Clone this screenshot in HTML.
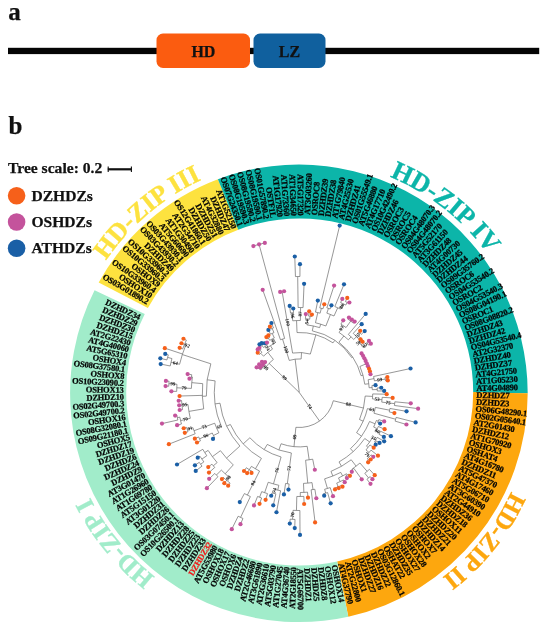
<!DOCTYPE html>
<html lang="en"><head><meta charset="utf-8"><title>HD-ZIP phylogenetic tree</title>
<style>html,body{margin:0;padding:0;background:#fff}svg{display:block}</style></head>
<body>
<svg width="550" height="630" viewBox="0 0 550 630">
<rect width="550" height="630" fill="#fff"/>
<g font-family="'Liberation Serif',serif" font-weight="bold" fill="#111" stroke="#111" stroke-width="0.25">
<text x="8.2" y="20" font-size="25">a</text>
<rect x="8" y="47.8" width="531.2" height="6.3" fill="#050505" stroke="none"/>
<rect x="156.5" y="33.5" width="93.5" height="34.5" rx="6.5" fill="#fb5c10" stroke="none"/>
<rect x="253.5" y="33.5" width="72" height="34.5" rx="6.5" fill="#10609e" stroke="none"/>
<text x="203.4" y="56.6" font-size="16" text-anchor="middle">HD</text>
<text x="289.5" y="56.6" font-size="16" text-anchor="middle">LZ</text>
<text x="8.5" y="134" font-size="25">b</text>
<text x="8" y="173.4" font-size="15.6">Tree scale: 0.2</text>
<path d="M107.8 169.3H131.8" stroke="#111" stroke-width="2.2" fill="none"/><path d="M108.2 166.5V172.1M131.4 166.5V172.1" stroke="#111" stroke-width="1.1" fill="none"/>
<circle cx="16.6" cy="195.8" r="8.8" fill="#f6601a" stroke="none"/>
<text x="31.4" y="200.9" font-size="15.6">DZHDZs</text>
<circle cx="16.6" cy="222" r="8.8" fill="#c4539c" stroke="none"/>
<text x="31.4" y="227.1" font-size="15.6">OSHDZs</text>
<circle cx="16.6" cy="248.2" r="8.8" fill="#1a5fa6" stroke="none"/>
<text x="31.4" y="253.3" font-size="15.6">ATHDZs</text>
</g>
<path d="M98.69 282.55A228.8 228.8 0 0 1 217.91 179.32L238.28 229.73A173.5 173.5 0 0 0 147.88 308.02Z" fill="#fde23f"/>
<path d="M217.91 179.32A228.8 228.8 0 0 1 527.7 393.35L473.2 392.04A173.5 173.5 0 0 0 238.28 229.73Z" fill="#0cb5a9"/>
<path d="M527.7 393.35A228.8 228.8 0 0 1 348.29 616.71L337.15 561.41A173.5 173.5 0 0 0 473.2 392.04Z" fill="#fda70e"/>
<path d="M348.29 616.71A228.8 228.8 0 0 1 94.58 290.32L144.77 313.91A173.5 173.5 0 0 0 337.15 561.41Z" fill="#a1ecca"/>
<defs><path id="tp" d="M65.3 392.5A234 234 0 1 1 533.3 392.5A234 234 0 1 1 65.3 392.5"/></defs>
<text font-family="'Liberation Serif',serif" font-weight="bold" font-size="26" fill="#fde23f" stroke="#fde23f" stroke-width="0.3" text-anchor="middle"><textPath href="#tp" startOffset="203.39">HD-ZIP III</textPath></text>
<text font-family="'Liberation Serif',serif" font-weight="bold" font-size="26.4" fill="#0cb5a9" stroke="#0cb5a9" stroke-width="0.3" text-anchor="middle"><textPath href="#tp" startOffset="523.58">HD-ZIP IV</textPath></text>
<text font-family="'Liberation Serif',serif" font-weight="bold" font-size="25" fill="#fda70e" stroke="#fda70e" stroke-width="0.3" text-anchor="middle"><textPath href="#tp" startOffset="892.78">HD-ZIP II</textPath></text>
<text font-family="'Liberation Serif',serif" font-weight="bold" font-size="25.4" fill="#a1ecca" stroke="#a1ecca" stroke-width="0.3" text-anchor="middle"><textPath href="#tp" startOffset="1309.35">HD-ZIP I</textPath></text>
<g font-family="'Liberation Serif',serif" font-weight="bold" font-size="8.5" letter-spacing="-0.2" fill="#050505" stroke="#050505" stroke-width="0.25">
<text transform="rotate(30.51 299.5 391.5)" x="123.6" y="394.35" text-anchor="end">OS03G01890.2</text>
<text transform="rotate(32.72 299.5 391.5)" x="123.6" y="394.35" text-anchor="end">OSHOX10</text>
<text transform="rotate(34.94 299.5 391.5)" x="123.6" y="394.35" text-anchor="end">OS10G33960.4</text>
<text transform="rotate(37.15 299.5 391.5)" x="123.6" y="394.35" text-anchor="end">OSHOX9</text>
<text transform="rotate(39.37 299.5 391.5)" x="123.6" y="394.35" text-anchor="end">OS10G33960.3</text>
<text transform="rotate(41.58 299.5 391.5)" x="123.6" y="394.35" text-anchor="end">OS10G33960.2</text>
<text transform="rotate(43.8 299.5 391.5)" x="123.6" y="394.35" text-anchor="end">DZHDZ49</text>
<text transform="rotate(46.01 299.5 391.5)" x="123.6" y="394.35" text-anchor="end">OS03G43930.2</text>
<text transform="rotate(48.23 299.5 391.5)" x="123.6" y="394.35" text-anchor="end">OS03G43930.1</text>
<text transform="rotate(50.44 299.5 391.5)" x="123.6" y="394.35" text-anchor="end">AT5G60690</text>
<text transform="rotate(52.66 299.5 391.5)" x="123.6" y="394.35" text-anchor="end">AT1G30490</text>
<text transform="rotate(54.87 299.5 391.5)" x="123.6" y="394.35" text-anchor="end">AT2G34710</text>
<text transform="rotate(57.09 299.5 391.5)" x="123.6" y="394.35" text-anchor="end">OS12G41860.1</text>
<text transform="rotate(59.3 299.5 391.5)" x="123.6" y="394.35" text-anchor="end">DZHDZ50</text>
<text transform="rotate(61.52 299.5 391.5)" x="123.6" y="394.35" text-anchor="end">DZHDZ51</text>
<text transform="rotate(63.73 299.5 391.5)" x="123.6" y="394.35" text-anchor="end">AT4G32880</text>
<text transform="rotate(65.95 299.5 391.5)" x="123.6" y="394.35" text-anchor="end">DZHDZ47</text>
<text transform="rotate(68.16 299.5 391.5)" x="123.6" y="394.35" text-anchor="end">AT1G52150</text>
<text transform="rotate(70.38 299.5 391.5)" x="123.6" y="394.35" text-anchor="end">OS07G24350.1</text>
<text transform="rotate(72.59 299.5 391.5)" x="123.6" y="394.35" text-anchor="end">OS08G19590.3</text>
<text transform="rotate(74.81 299.5 391.5)" x="123.6" y="394.35" text-anchor="end">OS08G19590.2</text>
<text transform="rotate(77.02 299.5 391.5)" x="123.6" y="394.35" text-anchor="end">OS08G19590.1</text>
<text transform="rotate(79.24 299.5 391.5)" x="123.6" y="394.35" text-anchor="end">OS01G57890.2</text>
<text transform="rotate(81.45 299.5 391.5)" x="123.6" y="394.35" text-anchor="end">OSTF1L</text>
<text transform="rotate(83.67 299.5 391.5)" x="123.6" y="394.35" text-anchor="end">AT1G17920</text>
<text transform="rotate(85.88 299.5 391.5)" x="123.6" y="394.35" text-anchor="end">AT1G73360</text>
<text transform="rotate(88.09 299.5 391.5)" x="123.6" y="394.35" text-anchor="end">AT1G34650</text>
<text transform="rotate(90.31 299.5 391.5)" x="123.6" y="394.35" text-anchor="end">AT5G17320</text>
<text transform="rotate(272.52 299.5 391.5)" x="476.4" y="394.35">AT3G03260</text>
<text transform="rotate(274.74 299.5 391.5)" x="476.4" y="394.35">OSROC8</text>
<text transform="rotate(276.95 299.5 391.5)" x="476.4" y="394.35">DZHDZ39</text>
<text transform="rotate(279.17 299.5 391.5)" x="476.4" y="394.35">DZHDZ38</text>
<text transform="rotate(281.38 299.5 391.5)" x="476.4" y="394.35">AT1G79840</text>
<text transform="rotate(283.6 299.5 391.5)" x="476.4" y="394.35">AT4G25530</text>
<text transform="rotate(285.81 299.5 391.5)" x="476.4" y="394.35">DZHDZ41</text>
<text transform="rotate(288.03 299.5 391.5)" x="476.4" y="394.35">OS01G55549.1</text>
<text transform="rotate(290.24 299.5 391.5)" x="476.4" y="394.35">AT5G46880</text>
<text transform="rotate(292.46 299.5 391.5)" x="476.4" y="394.35">AT4G17710</text>
<text transform="rotate(294.67 299.5 391.5)" x="476.4" y="394.35">OS10G42490.2</text>
<text transform="rotate(296.89 299.5 391.5)" x="476.4" y="394.35">DZHDZ46</text>
<text transform="rotate(299.1 299.5 391.5)" x="476.4" y="394.35">OSROC3</text>
<text transform="rotate(301.32 299.5 391.5)" x="476.4" y="394.35">OSROC5</text>
<text transform="rotate(303.53 299.5 391.5)" x="476.4" y="394.35">OSROC4</text>
<text transform="rotate(305.75 299.5 391.5)" x="476.4" y="394.35">OS04G48070.3</text>
<text transform="rotate(307.96 299.5 391.5)" x="476.4" y="394.35">OS04G48070.2</text>
<text transform="rotate(310.18 299.5 391.5)" x="476.4" y="394.35">AT5G52170</text>
<text transform="rotate(312.39 299.5 391.5)" x="476.4" y="394.35">AT3G61150</text>
<text transform="rotate(314.61 299.5 391.5)" x="476.4" y="394.35">DZHDZ48</text>
<text transform="rotate(316.82 299.5 391.5)" x="476.4" y="394.35">AT4G00730</text>
<text transform="rotate(319.04 299.5 391.5)" x="476.4" y="394.35">DZHDZ45</text>
<text transform="rotate(321.25 299.5 391.5)" x="476.4" y="394.35">DZHDZ44</text>
<text transform="rotate(323.47 299.5 391.5)" x="476.4" y="394.35">OS09G35760.2</text>
<text transform="rotate(325.68 299.5 391.5)" x="476.4" y="394.35">OSROC6</text>
<text transform="rotate(327.9 299.5 391.5)" x="476.4" y="394.35">OS04G53540.2</text>
<text transform="rotate(330.11 299.5 391.5)" x="476.4" y="394.35">OSROC2</text>
<text transform="rotate(332.33 299.5 391.5)" x="476.4" y="394.35">OS04G53540.3</text>
<text transform="rotate(334.54 299.5 391.5)" x="476.4" y="394.35">OS08G04190.1</text>
<text transform="rotate(336.76 299.5 391.5)" x="476.4" y="394.35">OSROC1</text>
<text transform="rotate(338.97 299.5 391.5)" x="476.4" y="394.35">OS08G08820.2</text>
<text transform="rotate(341.19 299.5 391.5)" x="476.4" y="394.35">DZHDZ43</text>
<text transform="rotate(343.4 299.5 391.5)" x="476.4" y="394.35">DZHDZ42</text>
<text transform="rotate(345.62 299.5 391.5)" x="476.4" y="394.35">OS04G53540.4</text>
<text transform="rotate(347.83 299.5 391.5)" x="476.4" y="394.35">AT2G32370</text>
<text transform="rotate(350.05 299.5 391.5)" x="476.4" y="394.35">DZHDZ40</text>
<text transform="rotate(352.26 299.5 391.5)" x="476.4" y="394.35">DZHDZ37</text>
<text transform="rotate(354.48 299.5 391.5)" x="476.4" y="394.35">AT4G21750</text>
<text transform="rotate(356.69 299.5 391.5)" x="476.4" y="394.35">AT1G05230</text>
<text transform="rotate(358.91 299.5 391.5)" x="476.4" y="394.35">AT4G04890</text>
<text transform="rotate(1.12 299.5 391.5)" x="476.4" y="394.35">DZHDZ7</text>
<text transform="rotate(3.34 299.5 391.5)" x="476.4" y="394.35">DZHDZ3</text>
<text transform="rotate(5.55 299.5 391.5)" x="476.4" y="394.35">OS06G48290.1</text>
<text transform="rotate(7.77 299.5 391.5)" x="476.4" y="394.35">OS02G05640.1</text>
<text transform="rotate(9.98 299.5 391.5)" x="476.4" y="394.35">AT2G01430</text>
<text transform="rotate(12.2 299.5 391.5)" x="476.4" y="394.35">DZHDZ12</text>
<text transform="rotate(14.41 299.5 391.5)" x="476.4" y="394.35">AT1G70920</text>
<text transform="rotate(16.62 299.5 391.5)" x="476.4" y="394.35">OSHOX3</text>
<text transform="rotate(18.84 299.5 391.5)" x="476.4" y="394.35">OSHAT4</text>
<text transform="rotate(21.05 299.5 391.5)" x="476.4" y="394.35">AT4G16780</text>
<text transform="rotate(23.27 299.5 391.5)" x="476.4" y="394.35">DZHDZ11</text>
<text transform="rotate(25.48 299.5 391.5)" x="476.4" y="394.35">AT5G47370</text>
<text transform="rotate(27.7 299.5 391.5)" x="476.4" y="394.35">AT4G17460</text>
<text transform="rotate(29.91 299.5 391.5)" x="476.4" y="394.35">AT5G06710</text>
<text transform="rotate(32.13 299.5 391.5)" x="476.4" y="394.35">AT3G60390</text>
<text transform="rotate(34.34 299.5 391.5)" x="476.4" y="394.35">AT2G44910</text>
<text transform="rotate(36.56 299.5 391.5)" x="476.4" y="394.35">DZHDZ36</text>
<text transform="rotate(38.77 299.5 391.5)" x="476.4" y="394.35">DZHDZ18</text>
<text transform="rotate(40.99 299.5 391.5)" x="476.4" y="394.35">OSHOX11</text>
<text transform="rotate(43.2 299.5 391.5)" x="476.4" y="394.35">DZHDZ20</text>
<text transform="rotate(45.42 299.5 391.5)" x="476.4" y="394.35">DZHDZ21</text>
<text transform="rotate(47.63 299.5 391.5)" x="476.4" y="394.35">DZHDZ14</text>
<text transform="rotate(49.85 299.5 391.5)" x="476.4" y="394.35">OSHOX7</text>
<text transform="rotate(52.06 299.5 391.5)" x="476.4" y="394.35">OSHOX2</text>
<text transform="rotate(54.28 299.5 391.5)" x="476.4" y="394.35">OSHOX28</text>
<text transform="rotate(56.49 299.5 391.5)" x="476.4" y="394.35">OSHOX27</text>
<text transform="rotate(58.71 299.5 391.5)" x="476.4" y="394.35">DZHDZ35</text>
<text transform="rotate(60.92 299.5 391.5)" x="476.4" y="394.35">OSHAT22</text>
<text transform="rotate(63.14 299.5 391.5)" x="476.4" y="394.35">OS03G12860.1</text>
<text transform="rotate(65.35 299.5 391.5)" x="476.4" y="394.35">DZHDZ22</text>
<text transform="rotate(67.57 299.5 391.5)" x="476.4" y="394.35">DZHDZ16</text>
<text transform="rotate(69.78 299.5 391.5)" x="476.4" y="394.35">DZHDZ27</text>
<text transform="rotate(72 299.5 391.5)" x="476.4" y="394.35">OSHOX1</text>
<text transform="rotate(74.21 299.5 391.5)" x="476.4" y="394.35">AT2G22800</text>
<text transform="rotate(76.43 299.5 391.5)" x="476.4" y="394.35">AT4G37790</text>
<text transform="rotate(78.64 299.5 391.5)" x="476.4" y="394.35">OSHOX14</text>
<text transform="rotate(80.86 299.5 391.5)" x="476.4" y="394.35">OSHOX12</text>
<text transform="rotate(83.07 299.5 391.5)" x="476.4" y="394.35">DZHDZ8</text>
<text transform="rotate(85.29 299.5 391.5)" x="476.4" y="394.35">DZHDZ5</text>
<text transform="rotate(87.5 299.5 391.5)" x="476.4" y="394.35">DZHDZ1</text>
<text transform="rotate(89.72 299.5 391.5)" x="476.4" y="394.35">AT5G66700</text>
<text transform="rotate(271.93 299.5 391.5)" x="123.6" y="394.35" text-anchor="end">AT2G18550</text>
<text transform="rotate(274.15 299.5 391.5)" x="123.6" y="394.35" text-anchor="end">AT4G36740</text>
<text transform="rotate(276.36 299.5 391.5)" x="123.6" y="394.35" text-anchor="end">AT1G27045</text>
<text transform="rotate(278.58 299.5 391.5)" x="123.6" y="394.35" text-anchor="end">AT5G03790</text>
<text transform="rotate(280.79 299.5 391.5)" x="123.6" y="394.35" text-anchor="end">AT2G36610</text>
<text transform="rotate(283.01 299.5 391.5)" x="123.6" y="394.35" text-anchor="end">AT3G61890</text>
<text transform="rotate(285.22 299.5 391.5)" x="123.6" y="394.35" text-anchor="end">AT2G46680</text>
<text transform="rotate(287.44 299.5 391.5)" x="123.6" y="394.35" text-anchor="end">DZHDZ2</text>
<text transform="rotate(289.65 299.5 391.5)" x="123.6" y="394.35" text-anchor="end">DZHDZ4</text>
<text transform="rotate(291.87 299.5 391.5)" x="123.6" y="394.35" text-anchor="end">OSHOX6</text>
<text transform="rotate(294.08 299.5 391.5)" x="123.6" y="394.35" text-anchor="end">OSHOX17</text>
<text transform="rotate(296.3 299.5 391.5)" x="123.6" y="394.35" text-anchor="end">OSHOX18</text>
<text transform="rotate(298.51 299.5 391.5)" x="123.6" y="394.35" text-anchor="end">AT5G53980</text>
<text transform="rotate(300.73 299.5 391.5)" x="123.6" y="394.35" text-anchor="end" fill="#f01818" stroke="#f01818">DZHDZ32</text>
<text transform="rotate(302.94 299.5 391.5)" x="123.6" y="394.35" text-anchor="end">DZHDZ33</text>
<text transform="rotate(305.16 299.5 391.5)" x="123.6" y="394.35" text-anchor="end">DZHDZ23</text>
<text transform="rotate(307.37 299.5 391.5)" x="123.6" y="394.35" text-anchor="end">DZHDZ25</text>
<text transform="rotate(309.58 299.5 391.5)" x="123.6" y="394.35" text-anchor="end">DZHDZ28</text>
<text transform="rotate(311.8 299.5 391.5)" x="123.6" y="394.35" text-anchor="end">DZHDZ13</text>
<text transform="rotate(314.01 299.5 391.5)" x="123.6" y="394.35" text-anchor="end">OS10G26500.1</text>
<text transform="rotate(316.23 299.5 391.5)" x="123.6" y="394.35" text-anchor="end">OS03G07450.1</text>
<text transform="rotate(318.44 299.5 391.5)" x="123.6" y="394.35" text-anchor="end">DZHDZ26</text>
<text transform="rotate(320.66 299.5 391.5)" x="123.6" y="394.35" text-anchor="end">DZHDZ31</text>
<text transform="rotate(322.87 299.5 391.5)" x="123.6" y="394.35" text-anchor="end">AT3G01220</text>
<text transform="rotate(325.09 299.5 391.5)" x="123.6" y="394.35" text-anchor="end">AT5G15150</text>
<text transform="rotate(327.3 299.5 391.5)" x="123.6" y="394.35" text-anchor="end">AT1G69780</text>
<text transform="rotate(329.52 299.5 391.5)" x="123.6" y="394.35" text-anchor="end">AT1G26960</text>
<text transform="rotate(331.73 299.5 391.5)" x="123.6" y="394.35" text-anchor="end">AT3G01470</text>
<text transform="rotate(333.95 299.5 391.5)" x="123.6" y="394.35" text-anchor="end">DZHDZ9</text>
<text transform="rotate(336.16 299.5 391.5)" x="123.6" y="394.35" text-anchor="end">DZHDZ24</text>
<text transform="rotate(338.38 299.5 391.5)" x="123.6" y="394.35" text-anchor="end">DZHDZ6</text>
<text transform="rotate(340.59 299.5 391.5)" x="123.6" y="394.35" text-anchor="end">DZHDZ19</text>
<text transform="rotate(342.81 299.5 391.5)" x="123.6" y="394.35" text-anchor="end">DZHDZ17</text>
<text transform="rotate(345.02 299.5 391.5)" x="123.6" y="394.35" text-anchor="end">OSHOX5</text>
<text transform="rotate(347.24 299.5 391.5)" x="123.6" y="394.35" text-anchor="end">OS09G21180.1</text>
<text transform="rotate(349.45 299.5 391.5)" x="123.6" y="394.35" text-anchor="end">OS08G32080.1</text>
<text transform="rotate(351.67 299.5 391.5)" x="123.6" y="394.35" text-anchor="end">OSHOX16</text>
<text transform="rotate(353.88 299.5 391.5)" x="123.6" y="394.35" text-anchor="end">OS02G49700.2</text>
<text transform="rotate(356.1 299.5 391.5)" x="123.6" y="394.35" text-anchor="end">OS02G49700.3</text>
<text transform="rotate(358.31 299.5 391.5)" x="123.6" y="394.35" text-anchor="end">DZHDZ10</text>
<text transform="rotate(0.53 299.5 391.5)" x="123.6" y="394.35" text-anchor="end">OSHOX13</text>
<text transform="rotate(2.74 299.5 391.5)" x="123.6" y="394.35" text-anchor="end">OS10G23090.2</text>
<text transform="rotate(4.96 299.5 391.5)" x="123.6" y="394.35" text-anchor="end">OSHOX8</text>
<text transform="rotate(7.17 299.5 391.5)" x="123.6" y="394.35" text-anchor="end">OS08G37580.1</text>
<text transform="rotate(9.39 299.5 391.5)" x="123.6" y="394.35" text-anchor="end">OSHOX4</text>
<text transform="rotate(11.6 299.5 391.5)" x="123.6" y="394.35" text-anchor="end">AT5G65310</text>
<text transform="rotate(13.82 299.5 391.5)" x="123.6" y="394.35" text-anchor="end">AT4G40060</text>
<text transform="rotate(16.03 299.5 391.5)" x="123.6" y="394.35" text-anchor="end">AT2G22430</text>
<text transform="rotate(18.25 299.5 391.5)" x="123.6" y="394.35" text-anchor="end">DZHDZ15</text>
<text transform="rotate(20.46 299.5 391.5)" x="123.6" y="394.35" text-anchor="end">DZHDZ30</text>
<text transform="rotate(22.68 299.5 391.5)" x="123.6" y="394.35" text-anchor="end">DZHDZ29</text>
<text transform="rotate(24.89 299.5 391.5)" x="123.6" y="394.35" text-anchor="end">DZHDZ34</text>
</g>
<path d="M299.3 392.5L269.07 363.34M265.34 367.79A42 42 0 0 1 273.38 359.45M265.34 367.79L263.32 366.32M260.96 369.91A44.5 44.5 0 0 1 266.01 362.97M260.96 369.91L256.65 367.37M261.86 368.44L260.18 367.36M262.82 367.02L259.13 364.44M263.83 365.62L262.8 364.84M264.9 364.27L261.96 361.86M266.01 362.97L265.04 362.1M273.38 359.45L267.83 352.37M263.53 356.15A51 51 0 0 1 272.53 349.09M263.53 356.15L260.72 353.3M259.6 354.43A55 55 0 0 1 261.87 352.2M259.6 354.43L257.72 352.63M261.87 352.2L260.17 350.37M259.37 351.13A57.5 57.5 0 0 1 260.99 349.62M259.37 351.13L257.7 349.4M260.99 349.62L259.4 347.83M272.53 349.09L270.43 345.69M266.79 348.14A55 55 0 0 1 274.25 343.54M266.79 348.14L265.31 346.12M263.54 347.47A57.5 57.5 0 0 1 267.13 344.84M263.54 347.47L261.99 345.51M261.09 346.24A60 60 0 0 1 262.9 344.8M261.09 346.24L259.5 344.31M262.9 344.8L261.69 343.21M267.13 344.84L266.85 344.43M265.93 345.06A58 58 0 0 1 267.78 343.81M265.93 345.06L264.66 343.26M267.78 343.81L266.97 342.55M274.25 343.54L271.97 339.09M269.67 340.33A60 60 0 0 1 274.32 337.95M269.67 340.33L268.44 338.15M267.39 338.76A62.5 62.5 0 0 1 269.49 337.57M267.39 338.76L266.37 337.04M269.49 337.57L268.35 335.46M274.32 337.95L272.23 333.4M270.53 334.21A65 65 0 0 1 273.96 332.64M270.53 334.21L268.41 329.91M273.96 332.64L272.2 328.5M270.97 329.04A69.5 69.5 0 0 1 273.45 327.99M270.97 329.04L269.91 326.66M273.45 327.99L271.44 322.98M299.3 392.5L295.14 359.16M289.25 360.44A33.6 33.6 0 0 1 301.16 358.95M289.25 360.44L282.54 339.07M280.49 339.75A56 56 0 0 1 284.62 338.46M280.49 339.75L262.69 289.83M284.62 338.46L259.07 244.37M253.37 246.03A153.5 153.5 0 0 1 264.82 242.92M253.37 246.03L253.37 246.03M259.07 244.37L259.07 244.37M264.82 242.92L264.82 242.92M301.16 358.95L301.52 352.56M292.59 353.07A40 40 0 0 1 310.33 354.05M292.59 353.07L282.12 291.55M280.17 291.9A102.4 102.4 0 0 1 284.08 291.24M280.17 291.9L280.17 291.9M284.08 291.24L284.08 291.24M310.33 354.05L315.85 334.83M297.02 332.54A60 60 0 0 1 333.03 342.88M297.02 332.54L296.56 320.55M292.74 320.8A72 72 0 0 1 300.39 320.51M292.74 320.8L292.01 312.83M290.47 312.99A80 80 0 0 1 293.55 312.71M290.47 312.99L289.69 305.93M293.55 312.71L293.25 308.52M300.39 320.51L300.58 307.51M298.12 307.51A85 85 0 0 1 303.04 307.58M298.12 307.51L297.69 276.51M295.44 276.56A116 116 0 0 1 299.93 276.5M295.44 276.56L294.78 256.48M299.93 276.5L299.99 264.2M303.04 307.58L304.09 283.81M333.03 342.88L334.72 340.4M312.29 330.85A63 63 0 0 1 351.84 357.74M312.29 330.85L313.33 325.96M306.88 324.92A68 68 0 0 1 319.64 327.61M306.88 324.92L307.55 318.96M305.41 318.75A74 74 0 0 1 309.68 319.23M305.41 318.75L305.8 314.07M309.68 319.23L310.1 316.26M308.62 316.07A77 77 0 0 1 311.57 316.48M308.62 316.07L309.2 311.3M311.57 316.48L311.87 314.61M319.64 327.61L320.72 324.18M315.46 322.75A71.6 71.6 0 0 1 325.85 326M315.46 322.75L317.81 312.62M315.49 312.11A82 82 0 0 1 320.12 313.19M315.49 312.11L317.81 300.55M320.12 313.19L321.39 308.35M319.76 307.94A87 87 0 0 1 323.01 308.79M319.76 307.94L339.67 225.61M323.01 308.79L324.29 304.27M325.85 326L330.45 314.49M326.84 313.14A84 84 0 0 1 334 316M326.84 313.14L328.48 308.42M326.85 307.87A89 89 0 0 1 330.1 309M326.85 307.87L334.09 285.62M330.1 309L331.44 305.34M334 316L337.71 307.8M334.83 306.55A93 93 0 0 1 340.56 309.15M334.83 306.55L344 284.37M340.56 309.15L343.22 303.77M340.63 302.54A99 99 0 0 1 345.77 305.08M340.63 302.54L342.3 298.9M345.77 305.08L347.18 302.44M345.43 301.53A102 102 0 0 1 348.91 303.38M345.43 301.53L347.24 297.96M348.91 303.38L349.4 302.5M351.84 357.74L352.68 357.19M338.91 342.23A64 64 0 0 1 361.06 375.7M338.91 342.23L343.86 335.95M339.07 332.48A72 72 0 0 1 348.35 339.8M339.07 332.48L343.49 325.81M340.88 324.16A80 80 0 0 1 346.04 327.57M340.88 324.16L343.22 320.31M346.04 327.57L350.71 321.08M347.91 319.15A88 88 0 0 1 353.43 323.12M347.91 319.15L348.96 317.56M350.71 321.08L351.82 319.54M353.43 323.12L354.66 321.54M348.35 339.8L351.08 336.87M348.33 334.43A76 76 0 0 1 353.71 339.43M348.33 334.43L365.69 313.88M353.71 339.43L356.57 336.64M353.24 333.42A80 80 0 0 1 359.71 340.05M353.24 333.42L361.66 324.19M359.71 340.05L361.22 338.74M358 335.25A82 82 0 0 1 364.23 342.42M358 335.25L360.15 333.15M358.99 331.99A85 85 0 0 1 361.29 334.34M358.99 331.99L360.19 330.78M361.29 334.34L364.71 331.12M364.23 342.42L361.07 344.87M359.18 342.51A78 78 0 0 1 362.86 347.29M359.18 342.51L360.71 341.23M359.71 340.05A80 80 0 0 1 361.69 342.43M359.71 340.05L360.54 339.33M361.69 342.43L362.55 341.74M362.86 347.29L367.75 343.81M366.8 342.5A84 84 0 0 1 368.68 345.14M366.8 342.5L368.96 340.89M368.68 345.14L370.82 343.68M361.06 375.7L362.99 375.18M359.94 366.45A66 66 0 0 1 364.78 384.24M359.94 366.45L366.83 363.49M361.56 353.44A73.5 73.5 0 0 1 370.5 374.24M361.56 353.44L361.56 353.44M363.02 355.87L363.02 355.87M364.39 358.36L364.39 358.36M365.66 360.91L365.66 360.91M366.83 363.49L366.83 363.49M367.91 366.13L367.91 366.13M368.87 368.8L369.06 368.73M369.74 371.5L369.93 371.45M370.5 374.24L370.5 374.24M364.78 384.24L368.75 383.74M368.13 379.73A70 70 0 0 1 369.14 387.78M368.13 379.73L374.03 378.64M373.59 376.48A76 76 0 0 1 374.4 380.81M373.59 376.48L410.54 368.51M374.4 380.81L385.27 379.12M384.99 377.46A87 87 0 0 1 385.51 380.78M384.99 377.46L387.35 377.05M385.51 380.78L387.79 380.47M369.14 387.78L372.13 387.58M371.96 385.47A73 73 0 0 1 372.25 389.7M371.96 385.47L375.54 385.13M372.25 389.7L377.24 389.5M377.17 388A78 78 0 0 1 377.29 391.01M377.17 388L381.26 387.76M377.29 391.01L384.18 390.88M299.3 392.5L319.57 421.03M333.32 400.74A35 35 0 0 1 295.88 427.33M333.32 400.74L363.44 408.04M365.21 396.02A66 66 0 0 1 359.51 419.53M365.21 396.02L372.6 396.42M372.69 393.94A73.4 73.4 0 0 1 372.42 398.89M372.69 393.94L386.68 394.21M372.42 398.89L381.98 399.73M382.16 397.33A83 83 0 0 1 381.74 402.12M382.16 397.33L392.64 397.94M381.74 402.12L394.65 403.63M394.85 401.79A96 96 0 0 1 394.42 405.47M394.85 401.79L410.77 403.33M394.42 405.47L418.1 408.7M359.51 419.53L363.16 421.17M367.42 408.61A70 70 0 0 1 356.6 432.7M367.42 408.61L374.72 410.33M375.35 407.4A77.5 77.5 0 0 1 373.98 413.23M375.35 407.4L389.58 410.19M389.91 408.44A92 92 0 0 1 389.22 411.93M389.91 408.44L406.55 411.37M389.22 411.93L394.4 413.05M373.98 413.23L395.65 419.25M396.15 417.39A100 100 0 0 1 395.12 421.11M396.15 417.39L415.62 422.39M395.12 421.11L406.43 424.49M356.6 432.7L361.51 436.15M369.55 421.51A76 76 0 0 1 350.48 448.68M369.55 421.51L375.09 423.8M376.38 420.47A82 82 0 0 1 373.66 427.06M376.38 420.47L378.26 421.16M378.8 419.63A84 84 0 0 1 377.69 422.68M378.8 419.63L384.19 421.47M377.69 422.68L380.12 423.61M373.66 427.06L377.29 428.75M378.3 426.48A86 86 0 0 1 376.2 431M378.3 426.48L384.64 429.2M376.2 431L379.78 432.79M380.54 431.22A90 90 0 0 1 378.99 434.34M380.54 431.22L390.92 436.17M378.99 434.34L383.86 436.89M350.48 448.68L353.17 451.64M364.75 438.51A80 80 0 0 1 339.02 461.94M364.75 438.51L369.66 441.96M372.57 437.53A86 86 0 0 1 366.48 446.2M372.57 437.53L375.98 439.63M377.31 437.38A90 90 0 0 1 374.58 441.83M377.31 437.38L384.16 441.32M374.58 441.83L375.41 442.38M376.36 440.9A91 91 0 0 1 374.44 443.84M376.36 440.9L379.58 442.92M374.44 443.84L375.67 444.69M366.48 446.2L368.04 447.44M369.99 444.92A88 88 0 0 1 366 449.9M369.99 444.92L373.68 447.66M366 449.9L369.04 452.51M371.03 450.11A92 92 0 0 1 366.97 454.83M371.03 450.11L377.96 455.69M366.97 454.83L369.17 456.86M371.01 454.81A95 95 0 0 1 367.28 458.86M371.01 454.81L373.27 456.78M367.28 458.86L368.35 459.91M369.64 458.56A96.5 96.5 0 0 1 367.04 461.23M369.64 458.56L370.66 459.52M367.04 461.23L368.16 462.37M339.02 461.94L341.5 466.28M351.23 459.79A85 85 0 0 1 330.97 471.38M351.23 459.79L356.12 466.12M359.95 463A93 93 0 0 1 352.13 469.04M359.95 463L367.13 471.34M369.38 469.34A104 104 0 0 1 364.81 473.27M369.38 469.34L374.71 475.18M364.81 473.27L368.59 477.93M370.23 476.58A110 110 0 0 1 366.93 479.26M370.23 476.58L372.42 479.18M366.93 479.26L370.49 483.83M352.13 469.04L352.41 469.45M353.89 468.41A93.5 93.5 0 0 1 350.92 470.46M353.89 468.41L361.71 479.29M350.92 470.46L351.8 471.8M330.97 471.38L332.84 476.02M340.74 472.39A90 90 0 0 1 324.62 478.86M340.74 472.39L342.58 475.94M346.56 473.75A94 94 0 0 1 338.5 477.94M346.56 473.75L347.32 475.05M348.9 474.11A95.5 95.5 0 0 1 345.71 475.96M348.9 474.11L349.94 475.82M345.71 475.96L346.88 478.06M338.5 477.94L340.17 481.57M343.58 479.93A98 98 0 0 1 336.7 483.08M343.58 479.93L344.71 482.16M336.7 483.08L338.22 486.78M341.84 485.21A102 102 0 0 1 334.55 488.22M341.84 485.21L342.5 486.66M338.22 486.78L338.76 488.08M334.55 488.22L335 489.44M324.62 478.86L327.44 488.46M330.21 487.6A100 100 0 0 1 324.64 489.24M330.21 487.6L332.99 496.16M324.64 489.24L325.66 493.1M327.6 492.58A104 104 0 0 1 323.71 493.6M327.6 492.58L330.64 503.35M323.71 493.6L324.2 495.64M295.88 427.33L293.99 446.64M307.2 446.32A54.4 54.4 0 0 1 281.09 443.76M307.2 446.32L309.17 459.78M312.69 459.17A68 68 0 0 1 305.62 460.21M312.69 459.17L314.82 469.76M305.62 460.21L307.76 483.11M312.02 482.61A91 91 0 0 1 303.49 483.4M312.02 482.61L313 489.54M314.87 489.25A98 98 0 0 1 311.12 489.78M314.87 489.25L316.32 498.24M311.12 489.78L315.09 522.44M303.49 483.4L303.9 492.39M307.52 492.16A100 100 0 0 1 300.28 492.5M307.52 492.16L307.97 497.64M300.28 492.5L300.32 496.5M303.83 496.4A104 104 0 0 1 296.8 496.47M303.83 496.4L304.16 503.99M296.8 496.47L296.46 510.47M299.88 510.5A118 118 0 0 1 293.04 510.33M299.88 510.5L300 534.9M293.04 510.33L292.57 519.32M295.02 519.43A127 127 0 0 1 290.12 519.17M295.02 519.43L294.73 528.12M290.12 519.17L289.8 523.56M281.09 443.76L278.88 449.98M291.37 452.98A61 61 0 0 1 267.3 444.43M291.37 452.98L287.34 483.72M289.11 483.93A92 92 0 0 1 285.58 483.47M289.11 483.93L288.47 489.6M285.58 483.47L283.93 494.45M267.3 444.43L264.15 449.54M281.09 456.98A67 67 0 0 1 249.89 437.76M281.09 456.98L273.47 483.92M278.82 485.27A95 95 0 0 1 268.22 482.27M278.82 485.27L277.74 490.15M280.58 490.73A100 100 0 0 1 274.92 489.48M280.58 490.73L276.48 512.24M274.92 489.48L273.94 493.36M275.89 493.83A104 104 0 0 1 272 492.85M275.89 493.83L273.24 505.33M272 492.85L271.21 495.75M268.22 482.27L264.62 492.67M267.54 493.63A106 106 0 0 1 261.73 491.62M267.54 493.63L265.59 499.83M261.73 491.62L259.6 497.23M261.64 497.98A112 112 0 0 1 257.59 496.44M261.64 497.98L259.55 503.82M257.59 496.44L253.98 505.44M249.89 437.76L243.26 443.84M261.42 458.39A76 76 0 0 1 230.35 424.47M261.42 458.39L255.44 468.79M259.56 471.01A88 88 0 0 1 251.45 466.35M259.56 471.01L247.36 495.1M250.36 496.57A115 115 0 0 1 244.41 493.55M250.36 496.57L240.57 517.38M242.99 518.49A138 138 0 0 1 238.17 516.22M242.99 518.49L240.46 524.15M238.17 516.22L231.79 529.13M244.41 493.55L239.78 502.08M251.45 466.35L249.27 469.71M252.3 471.59A92 92 0 0 1 246.33 467.72M252.3 471.59L251.53 472.88M249.27 469.71L247.1 473.07M246.33 467.72L244.02 470.99M230.35 424.47L226.72 426.15M239.89 446.07A80 80 0 0 1 220.02 403.23M239.89 446.07L226.52 458.13M233.28 464.92A98 98 0 0 1 220.45 450.7M233.28 464.92L225.19 473.79M229.21 477.27A110 110 0 0 1 221.35 470.12M229.21 477.27L226.66 480.36M230.11 483.1A114 114 0 0 1 223.32 477.48M230.11 483.1L228.16 485.64M226.66 480.36L224.36 483.13M223.32 477.48L221.92 479.05M221.35 470.12L216.39 475.06M218 476.64A117 117 0 0 1 214.81 473.44M218 476.64L206.89 488.15M214.81 473.44L209.18 478.83M220.45 450.7L212.41 456.64M217.11 462.57A108 108 0 0 1 208.13 450.4M217.11 462.57L213.31 465.81M214.74 467.46A113 113 0 0 1 211.91 464.13M214.74 467.46L208.98 472.57M211.91 464.13L208.27 467.11M208.13 450.4L204.76 452.54M206.84 455.71A112 112 0 0 1 202.78 449.31M206.84 455.71L201.89 459.09M203.86 461.89A118 118 0 0 1 200 456.24M203.86 461.89L200.62 464.24M202.03 466.14A122 122 0 0 1 199.25 462.32M202.03 466.14L195.73 470.9M199.25 462.32L194.91 465.35M200 456.24L197.73 457.7M202.78 449.31L177.01 464.48M220.02 403.23L215.07 403.9M221.22 426.1A85 85 0 0 1 215.1 380.87M221.22 426.1L216.63 428.07M218.83 432.81A90 90 0 0 1 214.71 423.22M218.83 432.81L213.46 435.49M214.75 437.96A96 96 0 0 1 212.25 432.99M214.75 437.96L212.99 438.91M212.25 432.99L199.56 438.89M200.48 440.81A110 110 0 0 1 198.68 436.95M200.48 440.81L196.97 442.52M198.68 436.95L194.84 438.65M214.71 423.22L194.03 430.73M195.18 433.77A112 112 0 0 1 192.96 427.67M195.18 433.77L168.87 444.2M192.96 427.67L187.27 429.55M188 431.71A118 118 0 0 1 186.57 427.38M188 431.71L184.8 432.84M186.57 427.38L183.71 428.26M215.1 380.87L207.17 379.77M206.37 396.14A93 93 0 0 1 210.84 363.81M206.37 396.14L202.37 396.29M203.69 408.87A97 97 0 0 1 202.7 383.65M203.69 408.87L188.91 411.4M190.31 418.3A112 112 0 0 1 187.94 404.43M190.31 418.3L180.58 420.6M181.44 424.03A122 122 0 0 1 179.82 417.14M181.44 424.03L177.1 425.19M179.82 417.14L177.37 417.65M177.88 420A124.5 124.5 0 0 1 176.9 415.29M177.88 420L161.98 423.6M176.9 415.29L175.13 415.62M187.94 404.43L181.97 405.07M182.55 409.6A118 118 0 0 1 181.57 400.53M182.55 409.6L179.68 410.02M181.97 405.07L179.19 405.37M181.57 400.53L178.68 400.73M202.34 395.36L179.55 396.03M202.7 383.65L191.75 382.65M191.38 388.38A108 108 0 0 1 192.43 376.95M191.38 388.38L176.79 387.82M176.71 391.37A122.6 122.6 0 0 1 176.98 384.27M176.71 391.37L171.41 391.32M176.98 384.27L168.89 383.72M168.75 386.25A130.7 130.7 0 0 1 169.09 381.21M168.75 386.25L165.55 386.09M169.09 381.21L165.9 380.93M192.43 376.95L191.44 376.8M191.15 378.89A109 109 0 0 1 191.76 374.72M191.15 378.89L189.47 378.68M191.76 374.72L187.62 374.04M210.84 363.81L191.81 357.64M191.81 357.64L182.3 354.55M179.58 364.28A123 123 0 0 1 185.81 345.08M179.58 364.28L171.02 362.26M170.19 365.99A131.8 131.8 0 0 1 171.95 358.56M170.19 365.99L160.69 364.04M171.95 358.56L167.6 357.4M166.94 359.95A136.3 136.3 0 0 1 168.3 354.86M166.94 359.95L160.34 358.32M168.3 354.86L165.23 353.97M182.48 353.99L164.82 348.16M185.81 345.08L184.42 344.5M182.66 348.98A124.5 124.5 0 0 1 186.37 340.1M182.66 348.98L179.66 347.86M184.42 344.5L181.47 343.27M186.37 340.1L183.46 338.75" fill="none" stroke="#5e5e5e" stroke-width="0.65"/>
<g font-family="'Liberation Serif',serif" font-weight="bold" font-size="5" fill="#111" text-anchor="middle"><text x="284.19" y="379.32" transform="rotate(43.97 284.19 377.92)">99</text><text x="265.74" y="369.48" transform="rotate(36.04 265.74 368.08)">99</text><text x="267.08" y="349.94" transform="rotate(53.76 267.08 348.54)">74</text><text x="273.33" y="343.16" transform="rotate(62.9 273.33 341.76)">65</text><text x="285.9" y="351.15" transform="rotate(72.59 285.9 349.75)">100</text><text x="287.36" y="323.71" transform="rotate(80.34 287.36 322.31)">100</text><text x="292.28" y="317.22" transform="rotate(84.77 292.28 315.82)">96</text><text x="300.48" y="315.41" transform="rotate(270.86 300.48 314.01)">87</text><text x="307.22" y="323.34" transform="rotate(276.4 307.22 321.94)">54</text><text x="341.89" y="307.86" transform="rotate(296.33 341.89 306.46)">86</text><text x="341.84" y="329.72" transform="rotate(303.53 341.84 328.32)">97</text><text x="358" y="336.65" transform="rotate(315.72 358 335.25)">57</text><text x="358.41" y="344.55" transform="rotate(320.14 358.41 343.15)">59</text><text x="365.3" y="346.95" transform="rotate(324.57 365.3 345.55)">87</text><text x="379.83" y="381.37" transform="rotate(351.15 379.83 379.97)">99</text><text x="309.43" y="408.17" transform="rotate(54.61 309.43 406.77)">74</text><text x="348.38" y="405.79" transform="rotate(13.62 348.38 404.39)">88</text><text x="377.2" y="400.71" transform="rotate(5 377.2 399.31)">53</text><text x="388.2" y="404.28" transform="rotate(6.66 388.2 402.88)">75</text><text x="371.8" y="411.04" transform="rotate(13.3 371.8 409.64)">63</text><text x="377.1" y="432.84" transform="rotate(26.59 377.1 431.44)">80</text><text x="373.42" y="439.46" transform="rotate(31.58 373.42 438.06)">55</text><text x="366.97" y="456.23" transform="rotate(42.65 366.97 454.83)">71</text><text x="294.93" y="438.39" transform="rotate(275.6 294.93 436.99)">69</text><text x="292.81" y="516.23" transform="rotate(273.04 292.81 514.83)">70</text><text x="289.36" y="469.75" transform="rotate(277.47 289.36 468.35)">72</text><text x="277.28" y="471.85" transform="rotate(285.77 277.28 470.45)">76</text><text x="274.67" y="491.85" transform="rotate(284.11 274.67 490.45)">74</text><text x="253.46" y="484.46" transform="rotate(296.85 253.46 483.06)">94</text><text x="228.57" y="479.45" transform="rotate(309.58 228.57 478.05)">98</text><text x="219.38" y="428.29" transform="rotate(336.72 219.38 426.89)">55</text><text x="205.91" y="437.34" transform="rotate(335.06 205.91 435.94)">96</text><text x="204.37" y="428.38" transform="rotate(340.04 204.37 426.98)">73</text><text x="190.12" y="430.01" transform="rotate(341.7 190.12 428.61)">91</text><text x="185.45" y="420.85" transform="rotate(346.68 185.45 419.45)">70</text><text x="184.95" y="406.15" transform="rotate(353.88 184.95 404.75)">95</text><text x="184.08" y="389.5" transform="rotate(2.19 184.08 388.1)">79</text><text x="172.94" y="385.4" transform="rotate(3.85 172.94 384)">99</text><text x="175.3" y="364.67" transform="rotate(13.26 175.3 363.27)">64</text><text x="187.19" y="347.06" transform="rotate(22.68 187.19 345.66)">92</text></g>
<circle cx="256.65" cy="367.37" r="2.1" fill="#c4539c"/>
<circle cx="260.18" cy="367.36" r="2.1" fill="#c4539c"/>
<circle cx="259.13" cy="364.44" r="2.1" fill="#c4539c"/>
<circle cx="262.8" cy="364.84" r="2.1" fill="#c4539c"/>
<circle cx="261.96" cy="361.86" r="2.1" fill="#c4539c"/>
<circle cx="265.04" cy="362.1" r="2.1" fill="#c4539c"/>
<circle cx="257.72" cy="352.63" r="2.1" fill="#f6601a"/>
<circle cx="257.7" cy="349.4" r="2.1" fill="#c4539c"/>
<circle cx="259.4" cy="347.83" r="2.1" fill="#c4539c"/>
<circle cx="259.5" cy="344.31" r="2.1" fill="#1a5fa6"/>
<circle cx="261.69" cy="343.21" r="2.1" fill="#1a5fa6"/>
<circle cx="264.66" cy="343.26" r="2.1" fill="#1a5fa6"/>
<circle cx="266.97" cy="342.55" r="2.1" fill="#c4539c"/>
<circle cx="266.37" cy="337.04" r="2.1" fill="#f6601a"/>
<circle cx="268.35" cy="335.46" r="2.1" fill="#f6601a"/>
<circle cx="268.41" cy="329.91" r="2.1" fill="#1a5fa6"/>
<circle cx="269.91" cy="326.66" r="2.1" fill="#f6601a"/>
<circle cx="271.44" cy="322.98" r="2.1" fill="#1a5fa6"/>
<circle cx="262.69" cy="289.83" r="2.1" fill="#c4539c"/>
<circle cx="253.37" cy="246.03" r="2.1" fill="#c4539c"/>
<circle cx="259.07" cy="244.37" r="2.1" fill="#c4539c"/>
<circle cx="264.82" cy="242.92" r="2.1" fill="#c4539c"/>
<circle cx="280.17" cy="291.9" r="2.1" fill="#c4539c"/>
<circle cx="284.08" cy="291.24" r="2.1" fill="#c4539c"/>
<circle cx="289.69" cy="305.93" r="2.1" fill="#1a5fa6"/>
<circle cx="293.25" cy="308.52" r="2.1" fill="#1a5fa6"/>
<circle cx="294.78" cy="256.48" r="2.1" fill="#1a5fa6"/>
<circle cx="299.99" cy="264.2" r="2.1" fill="#1a5fa6"/>
<circle cx="304.09" cy="283.81" r="2.1" fill="#1a5fa6"/>
<circle cx="305.8" cy="314.07" r="2.1" fill="#c4539c"/>
<circle cx="309.2" cy="311.3" r="2.1" fill="#f6601a"/>
<circle cx="311.87" cy="314.61" r="2.1" fill="#f6601a"/>
<circle cx="317.81" cy="300.55" r="2.1" fill="#1a5fa6"/>
<circle cx="339.67" cy="225.61" r="2.1" fill="#1a5fa6"/>
<circle cx="324.29" cy="304.27" r="2.1" fill="#f6601a"/>
<circle cx="334.09" cy="285.62" r="2.1" fill="#c4539c"/>
<circle cx="331.44" cy="305.34" r="2.1" fill="#1a5fa6"/>
<circle cx="344" cy="284.37" r="2.1" fill="#1a5fa6"/>
<circle cx="342.3" cy="298.9" r="2.1" fill="#c4539c"/>
<circle cx="347.24" cy="297.96" r="2.1" fill="#f6601a"/>
<circle cx="349.4" cy="302.5" r="2.1" fill="#c4539c"/>
<circle cx="343.22" cy="320.31" r="2.1" fill="#c4539c"/>
<circle cx="348.96" cy="317.56" r="2.1" fill="#c4539c"/>
<circle cx="351.82" cy="319.54" r="2.1" fill="#c4539c"/>
<circle cx="354.66" cy="321.54" r="2.1" fill="#c4539c"/>
<circle cx="365.69" cy="313.88" r="2.1" fill="#1a5fa6"/>
<circle cx="361.66" cy="324.19" r="2.1" fill="#1a5fa6"/>
<circle cx="360.19" cy="330.78" r="2.1" fill="#f6601a"/>
<circle cx="364.71" cy="331.12" r="2.1" fill="#1a5fa6"/>
<circle cx="360.54" cy="339.33" r="2.1" fill="#f6601a"/>
<circle cx="362.55" cy="341.74" r="2.1" fill="#f6601a"/>
<circle cx="368.96" cy="340.89" r="2.1" fill="#c4539c"/>
<circle cx="370.82" cy="343.68" r="2.1" fill="#c4539c"/>
<circle cx="361.56" cy="353.44" r="2.1" fill="#c4539c"/>
<circle cx="363.02" cy="355.87" r="2.1" fill="#c4539c"/>
<circle cx="364.39" cy="358.36" r="2.1" fill="#c4539c"/>
<circle cx="365.66" cy="360.91" r="2.1" fill="#c4539c"/>
<circle cx="366.83" cy="363.49" r="2.1" fill="#c4539c"/>
<circle cx="367.91" cy="366.13" r="2.1" fill="#c4539c"/>
<circle cx="369.06" cy="368.73" r="2.1" fill="#f6601a"/>
<circle cx="369.93" cy="371.45" r="2.1" fill="#f6601a"/>
<circle cx="370.5" cy="374.24" r="2.1" fill="#c4539c"/>
<circle cx="410.54" cy="368.51" r="2.1" fill="#1a5fa6"/>
<circle cx="387.35" cy="377.05" r="2.1" fill="#f6601a"/>
<circle cx="387.79" cy="380.47" r="2.1" fill="#f6601a"/>
<circle cx="375.54" cy="385.13" r="2.1" fill="#1a5fa6"/>
<circle cx="381.26" cy="387.76" r="2.1" fill="#1a5fa6"/>
<circle cx="384.18" cy="390.88" r="2.1" fill="#1a5fa6"/>
<circle cx="386.68" cy="394.21" r="2.1" fill="#f6601a"/>
<circle cx="392.64" cy="397.94" r="2.1" fill="#f6601a"/>
<circle cx="410.77" cy="403.33" r="2.1" fill="#c4539c"/>
<circle cx="418.1" cy="408.7" r="2.1" fill="#c4539c"/>
<circle cx="406.55" cy="411.37" r="2.1" fill="#1a5fa6"/>
<circle cx="394.4" cy="413.05" r="2.1" fill="#f6601a"/>
<circle cx="415.62" cy="422.39" r="2.1" fill="#1a5fa6"/>
<circle cx="406.43" cy="424.49" r="2.1" fill="#c4539c"/>
<circle cx="384.19" cy="421.47" r="2.1" fill="#c4539c"/>
<circle cx="380.12" cy="423.61" r="2.1" fill="#1a5fa6"/>
<circle cx="384.64" cy="429.2" r="2.1" fill="#f6601a"/>
<circle cx="390.92" cy="436.17" r="2.1" fill="#1a5fa6"/>
<circle cx="383.86" cy="436.89" r="2.1" fill="#1a5fa6"/>
<circle cx="384.16" cy="441.32" r="2.1" fill="#1a5fa6"/>
<circle cx="379.58" cy="442.92" r="2.1" fill="#1a5fa6"/>
<circle cx="375.67" cy="444.69" r="2.1" fill="#1a5fa6"/>
<circle cx="373.68" cy="447.66" r="2.1" fill="#f6601a"/>
<circle cx="377.96" cy="455.69" r="2.1" fill="#f6601a"/>
<circle cx="373.27" cy="456.78" r="2.1" fill="#c4539c"/>
<circle cx="370.66" cy="459.52" r="2.1" fill="#f6601a"/>
<circle cx="368.16" cy="462.37" r="2.1" fill="#f6601a"/>
<circle cx="374.71" cy="475.18" r="2.1" fill="#f6601a"/>
<circle cx="372.42" cy="479.18" r="2.1" fill="#c4539c"/>
<circle cx="370.49" cy="483.83" r="2.1" fill="#c4539c"/>
<circle cx="361.71" cy="479.29" r="2.1" fill="#c4539c"/>
<circle cx="351.8" cy="471.8" r="2.1" fill="#c4539c"/>
<circle cx="349.94" cy="475.82" r="2.1" fill="#f6601a"/>
<circle cx="346.88" cy="478.06" r="2.1" fill="#c4539c"/>
<circle cx="344.71" cy="482.16" r="2.1" fill="#c4539c"/>
<circle cx="342.5" cy="486.66" r="2.1" fill="#f6601a"/>
<circle cx="338.76" cy="488.08" r="2.1" fill="#f6601a"/>
<circle cx="335" cy="489.44" r="2.1" fill="#f6601a"/>
<circle cx="332.99" cy="496.16" r="2.1" fill="#c4539c"/>
<circle cx="330.64" cy="503.35" r="2.1" fill="#1a5fa6"/>
<circle cx="324.2" cy="495.64" r="2.1" fill="#1a5fa6"/>
<circle cx="314.82" cy="469.76" r="2.1" fill="#c4539c"/>
<circle cx="316.32" cy="498.24" r="2.1" fill="#c4539c"/>
<circle cx="315.09" cy="522.44" r="2.1" fill="#f6601a"/>
<circle cx="307.97" cy="497.64" r="2.1" fill="#f6601a"/>
<circle cx="304.16" cy="503.99" r="2.1" fill="#f6601a"/>
<circle cx="300" cy="534.9" r="2.1" fill="#1a5fa6"/>
<circle cx="294.73" cy="528.12" r="2.1" fill="#1a5fa6"/>
<circle cx="289.8" cy="523.56" r="2.1" fill="#1a5fa6"/>
<circle cx="288.47" cy="489.6" r="2.1" fill="#1a5fa6"/>
<circle cx="283.93" cy="494.45" r="2.1" fill="#1a5fa6"/>
<circle cx="276.48" cy="512.24" r="2.1" fill="#1a5fa6"/>
<circle cx="273.24" cy="505.33" r="2.1" fill="#1a5fa6"/>
<circle cx="271.21" cy="495.75" r="2.1" fill="#1a5fa6"/>
<circle cx="265.59" cy="499.83" r="2.1" fill="#f6601a"/>
<circle cx="259.55" cy="503.82" r="2.1" fill="#f6601a"/>
<circle cx="253.98" cy="505.44" r="2.1" fill="#c4539c"/>
<circle cx="240.46" cy="524.15" r="2.1" fill="#c4539c"/>
<circle cx="231.79" cy="529.13" r="2.1" fill="#c4539c"/>
<circle cx="239.78" cy="502.08" r="2.1" fill="#1a5fa6"/>
<circle cx="251.53" cy="472.88" r="2.1" fill="#f6601a"/>
<circle cx="247.1" cy="473.07" r="2.1" fill="#f6601a"/>
<circle cx="244.02" cy="470.99" r="2.1" fill="#f6601a"/>
<circle cx="228.16" cy="485.64" r="2.1" fill="#f6601a"/>
<circle cx="224.36" cy="483.13" r="2.1" fill="#f6601a"/>
<circle cx="221.92" cy="479.05" r="2.1" fill="#f6601a"/>
<circle cx="206.89" cy="488.15" r="2.1" fill="#c4539c"/>
<circle cx="209.18" cy="478.83" r="2.1" fill="#c4539c"/>
<circle cx="208.98" cy="472.57" r="2.1" fill="#f6601a"/>
<circle cx="208.27" cy="467.11" r="2.1" fill="#f6601a"/>
<circle cx="195.73" cy="470.9" r="2.1" fill="#1a5fa6"/>
<circle cx="194.91" cy="465.35" r="2.1" fill="#1a5fa6"/>
<circle cx="197.73" cy="457.7" r="2.1" fill="#1a5fa6"/>
<circle cx="177.01" cy="464.48" r="2.1" fill="#1a5fa6"/>
<circle cx="212.99" cy="438.91" r="2.1" fill="#1a5fa6"/>
<circle cx="196.97" cy="442.52" r="2.1" fill="#f6601a"/>
<circle cx="194.84" cy="438.65" r="2.1" fill="#f6601a"/>
<circle cx="168.87" cy="444.2" r="2.1" fill="#f6601a"/>
<circle cx="184.8" cy="432.84" r="2.1" fill="#f6601a"/>
<circle cx="183.71" cy="428.26" r="2.1" fill="#f6601a"/>
<circle cx="177.1" cy="425.19" r="2.1" fill="#c4539c"/>
<circle cx="161.98" cy="423.6" r="2.1" fill="#c4539c"/>
<circle cx="175.13" cy="415.62" r="2.1" fill="#c4539c"/>
<circle cx="179.68" cy="410.02" r="2.1" fill="#c4539c"/>
<circle cx="179.19" cy="405.37" r="2.1" fill="#c4539c"/>
<circle cx="178.68" cy="400.73" r="2.1" fill="#c4539c"/>
<circle cx="179.55" cy="396.03" r="2.1" fill="#f6601a"/>
<circle cx="171.41" cy="391.32" r="2.1" fill="#c4539c"/>
<circle cx="165.55" cy="386.09" r="2.1" fill="#c4539c"/>
<circle cx="165.9" cy="380.93" r="2.1" fill="#c4539c"/>
<circle cx="189.47" cy="378.68" r="2.1" fill="#c4539c"/>
<circle cx="187.62" cy="374.04" r="2.1" fill="#c4539c"/>
<circle cx="160.69" cy="364.04" r="2.1" fill="#1a5fa6"/>
<circle cx="160.34" cy="358.32" r="2.1" fill="#1a5fa6"/>
<circle cx="165.23" cy="353.97" r="2.1" fill="#1a5fa6"/>
<circle cx="164.82" cy="348.16" r="2.1" fill="#f6601a"/>
<circle cx="179.66" cy="347.86" r="2.1" fill="#f6601a"/>
<circle cx="181.47" cy="343.27" r="2.1" fill="#f6601a"/>
<circle cx="183.46" cy="338.75" r="2.1" fill="#f6601a"/>
</svg>
</body></html>
